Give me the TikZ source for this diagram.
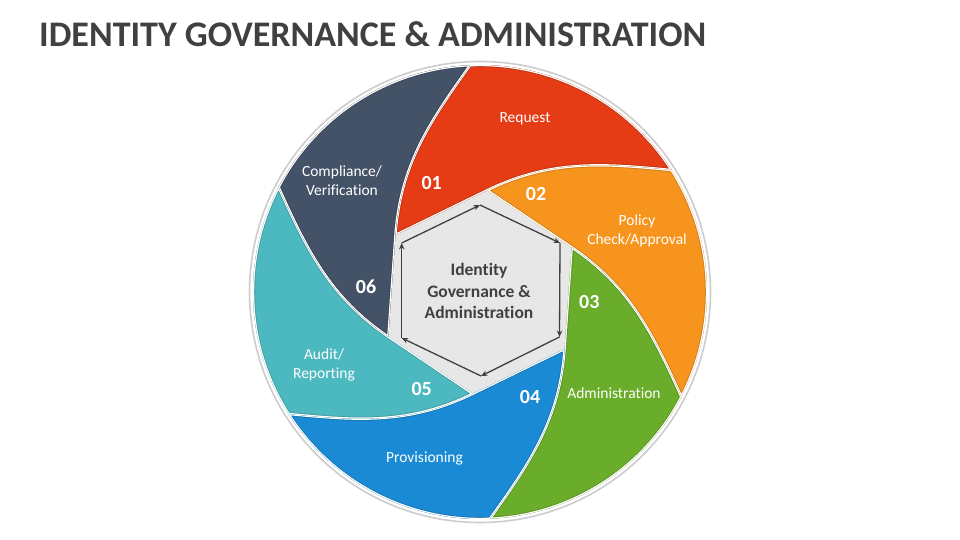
\documentclass[tikz,border=0pt]{standalone}
\usepackage{fontspec}
\setmainfont{Carlito}[Ligatures={NoCommon,NoContextual}]
\usetikzlibrary{arrows.meta}
\definecolor{cRed}{HTML}{E53C15}
\definecolor{cOrange}{HTML}{F7941E}
\definecolor{cGreen}{HTML}{6AAD2A}
\definecolor{cBlue}{HTML}{1A8AD4}
\definecolor{cTeal}{HTML}{4CB8C0}
\definecolor{cNavy}{HTML}{435266}
\definecolor{txtgrey}{HTML}{404040}
\definecolor{hexgrey}{HTML}{E7E7E7}
\definecolor{ringgrey}{HTML}{CDCDCD}
\newcommand\petalshape{(146:102) -- (86:102) .. controls (62:150) and (46.57:177.4) .. (32.5:227) arc[start angle=32.5, end angle=92.5, radius=227] .. controls (106.57:177.4) and (122:150) .. (146:102) -- cycle}
\begin{document}
\begin{tikzpicture}[x=1pt,y=1pt,
  petaltext/.style={text=white, align=center, font=\fontsize{15.5}{19}\selectfont},
  numtext/.style={text=white, font=\bfseries\fontsize{20}{22}\selectfont},
  cyclearrow/.style={draw=txtgrey, line width=1.3, -{Stealth[length=6.5,width=5.5]}}]
\useasboundingbox (0,0) rectangle (960,540);
\fill[white] (0,0) rectangle (960,540);
\node[anchor=base west, text=txtgrey, font=\bfseries\fontsize{36}{40}\selectfont, inner sep=0] (title) at (39,493.3) {IDENTITY GOVERNANCE \& ADMINISTRATION};
\begin{scope}[shift={(480,248)}]
  \draw[ringgrey, line width=1.6, fill=white] (0,0) circle (230.5);
  \fill[hexgrey] (146:102) -- (86:102) -- (26:102) -- (-34:102) -- (-94:102) -- (-154:102) -- cycle;
  \foreach \k/\col in {0/cRed, 1/cOrange, 2/cGreen, 3/cBlue, 4/cTeal, 5/cNavy} {
    \begin{scope}[rotate=-60*\k]
      \begin{scope}
        \clip \petalshape;
        \fill[\col] (0,0) circle (240);
        \draw[\col!82!black, line width=4] \petalshape;
        \draw[white, line width=2.4] \petalshape;
      \end{scope}
    \end{scope}
  }
\end{scope}
\coordinate (h1) at (480,335);
\coordinate (h2) at (560,297);
\coordinate (h3) at (559.5,203);
\coordinate (h4) at (481,164);
\coordinate (h5) at (401.7,202);
\coordinate (h6) at (401.7,297);
\draw[cyclearrow] (h6) -- (h1);
\draw[cyclearrow] (h1) -- (h2);
\draw[cyclearrow] (h2) -- (h3);
\draw[cyclearrow] (h3) -- (h4);
\draw[cyclearrow] (h4) -- (h5);
\draw[cyclearrow] (h5) -- (h6);
\node[text=txtgrey, align=center, font=\bfseries\fontsize{17.5}{21.5}\selectfont] (centre) at (479,249) {Identity\\Governance \&\\Administration};
\node[petaltext] (request) at (525,421) {Request};
\node[petaltext] (policy) at (637,309.5) {Policy\\Check/Approval};
\node[petaltext] (admin) at (614,146.7) {Administration};
\node[petaltext] (prov) at (424.5,81.7) {Provisioning};
\node[petaltext] (audit) at (324,175.3) {Audit/\\Reporting};
\node[petaltext] (compl) at (342,359) {Compliance/\\Verification};
\node[numtext] (n1) at (431.7,357.3) {01};
\node[numtext] (n2) at (536,345.7) {02};
\node[numtext] (n3) at (589.3,238.3) {03};
\node[numtext] (n4) at (530,143.3) {04};
\node[numtext] (n5) at (421.7,150.7) {05};
\node[numtext] (n6) at (366,253.3) {06};
\end{tikzpicture}
\end{document}
